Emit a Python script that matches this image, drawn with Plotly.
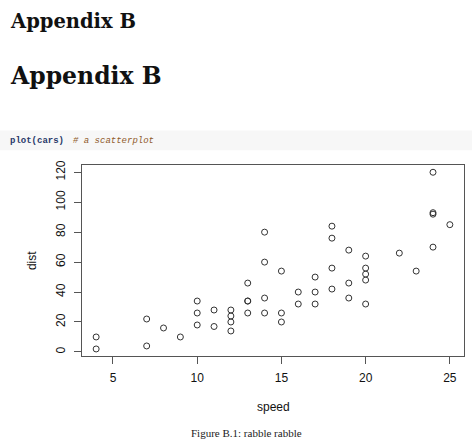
import plotly.graph_objects as go

W, H = 474, 446

speed = [4, 4, 7, 7, 8, 9, 10, 10, 10, 11, 11, 12, 12, 12, 12, 13, 13, 13, 13,
         14, 14, 14, 14, 15, 15, 15, 16, 16, 17, 17, 17, 18, 18, 18, 18, 19, 19,
         19, 20, 20, 20, 20, 20, 22, 23, 24, 24, 24, 24, 25]
dist = [2, 10, 4, 22, 16, 10, 18, 26, 34, 17, 28, 14, 20, 24, 28, 26, 34, 34, 46,
        26, 36, 60, 80, 20, 26, 54, 32, 40, 32, 40, 50, 42, 56, 76, 84, 36, 46,
        68, 32, 48, 52, 56, 64, 66, 54, 70, 92, 93, 120, 85]
x_ticks = [5, 10, 15, 20, 25]
y_ticks = [0, 20, 40, 60, 80, 100, 120]

_AXIS = "#555555"
_SANS = "Liberation Sans, Arial, sans-serif"
_SERIF = "Liberation Serif, Times New Roman, serif"
_HEAD = "DejaVu Serif, serif"
_MONO = "Liberation Mono, DejaVu Sans Mono, monospace"


def px(x):
    return x / W


def py(y):
    return 1 - y / H


# R default axis extension (4% each side)
xpad = (max(speed) - min(speed)) * 0.04
ypad = (max(dist) - min(dist)) * 0.04

fig = go.Figure(
    go.Scatter(
        x=speed,
        y=dist,
        mode="markers",
        marker=dict(symbol="circle-open", size=6, color="#333333", line=dict(width=1)),
        hoverinfo="x+y",
    )
)

axis_common = dict(
    showgrid=False,
    zeroline=False,
    showline=True,
    mirror=True,
    linecolor=_AXIS,
    linewidth=1,
    ticks="outside",
    ticklen=7,
    tickwidth=1,
    tickcolor=_AXIS,
    ticklabelstandoff=4,
    tickfont=dict(family=_SANS, size=12, color="#111111"),
)

fig.update_layout(
    width=W,
    height=H,
    paper_bgcolor="white",
    plot_bgcolor="white",
    showlegend=False,
    margin=dict(l=0, r=0, t=0, b=0),
    xaxis=dict(
        axis_common,
        domain=[px(82), px(464)],
        range=[min(speed) - xpad, max(speed) + xpad],
        tickvals=x_ticks,
        ticktext=[str(v) for v in x_ticks],
    ),
    yaxis=dict(
        axis_common,
        domain=[py(355), py(162)],
        range=[min(dist) - ypad, max(dist) + ypad],
        tickvals=y_ticks,
        ticktext=[str(v) for v in y_ticks],
        tickangle=-90,
    ),
)

# code block background
fig.add_shape(
    type="rect", xref="paper", yref="paper",
    x0=px(0), x1=px(472), y0=py(147), y1=py(127),
    fillcolor="#f7f7f7", line=dict(width=0), layer="below",
)

annotations = [
    dict(text="<b>Appendix B</b>", x=px(8), y=py(17), xanchor="left", yanchor="middle",
         font=dict(family=_HEAD, size=19.5, color="#111111")),
    dict(text="<b>Appendix B</b>", x=px(8), y=py(72), xanchor="left", yanchor="middle",
         font=dict(family=_HEAD, size=23.5, color="#111111")),
    dict(text="<b>plot(cars)</b>", x=px(8), y=py(138), xanchor="left", yanchor="middle",
         font=dict(family=_MONO, size=9, color="#2a3a6a")),
    dict(text="<i># a scatterplot</i>", x=px(71), y=py(138), xanchor="left", yanchor="middle",
         font=dict(family=_MONO, size=9, color="#8f5a2a")),
    dict(text="dist", x=px(32), y=py(258), xanchor="center", yanchor="middle", textangle=-90,
         font=dict(family=_SANS, size=12, color="#111111")),
    dict(text="speed", x=px(273), y=py(407), xanchor="center", yanchor="middle",
         font=dict(family=_SANS, size=12, color="#111111")),
    dict(text="Figure B.1: rabble rabble", x=px(246), y=py(433), xanchor="center", yanchor="middle",
         font=dict(family=_SERIF, size=11, color="#222222")),
]
for a in annotations:
    fig.add_annotation(xref="paper", yref="paper", showarrow=False, **a)

# drop the default body margin so the figure fills the window exactly
fig.write_html(
    "out.html",
    config={"displayModeBar": False},
    post_script="document.body.style.margin = '0';",
)
